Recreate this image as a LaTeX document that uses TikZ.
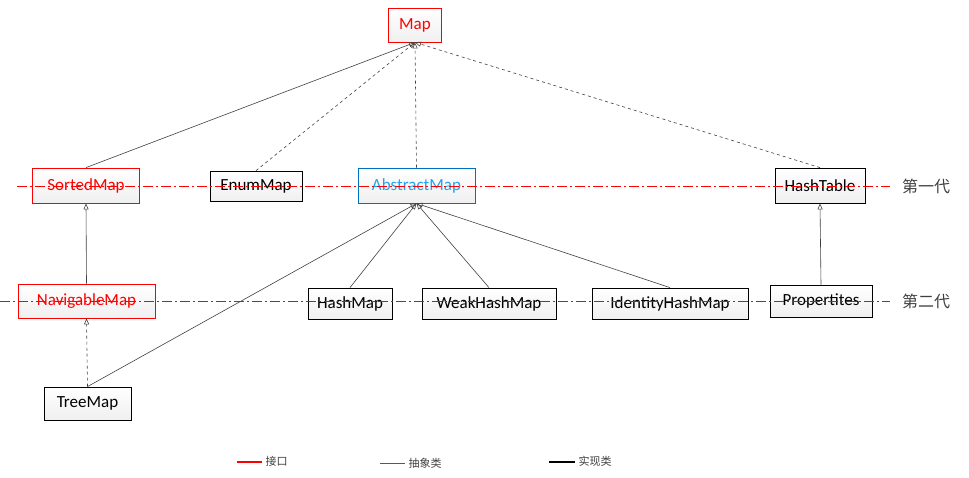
\documentclass[tikz,border=0pt]{standalone}
\usepackage{fontspec}
\setmainfont{Carlito}
\newfontfamily\cjk{Noto Sans CJK SC}
\usetikzlibrary{arrows.meta}
\definecolor{ired}{HTML}{FF0000}
\definecolor{iblue}{HTML}{0070C0}
\definecolor{itext}{HTML}{1EA5EE}
\tikzset{
  cls/.style={draw=black, top color=white, bottom color=gray!12, font=\fontsize{17}{18}\selectfont, inner sep=0pt, minimum height=32pt, line width=0.8pt},
  ifc/.style={cls, draw=ired, text=ired},
  abs/.style={cls, draw=iblue, text=itext},
  inh/.style={draw=black!75, line width=0.6pt, -{Triangle[open,length=6pt,width=5pt]}},
  impl/.style={inh, dashed},
  gen/.style={draw=ired, line width=0.7pt, dash pattern=on 10pt off 3pt on 2pt off 3pt},
  lab/.style={font=\cjk\fontsize{16}{18}\selectfont, text=black!75},
  leg/.style={font=\cjk\fontsize{11}{12}\selectfont, text=black!75, anchor=west}
}
\begin{document}
\begin{tikzpicture}[x=1pt,y=-1pt]
\useasboundingbox (0,0) rectangle (969,478);
\node[ifc, minimum width=53pt, minimum height=34pt] (map) at (415,25) {Map};
\node[ifc, minimum width=107pt, minimum height=35pt] (sorted) at (86,185.5) {SortedMap};
\node[cls, minimum width=92pt, minimum height=30pt] (enum) at (256,186) {EnumMap};
\node[abs, minimum width=117pt, minimum height=35pt] (abstract) at (416.5,185.5) {AbstractMap};
\node[cls, minimum width=90pt, minimum height=35pt] (hashtable) at (820,185.5) {HashTable};
\node[ifc, minimum width=137pt, minimum height=34pt] (nav) at (86.5,301) {NavigableMap};
\node[cls, minimum width=84pt, minimum height=31pt] (hashmap) at (350,303.5) {HashMap};
\node[cls, minimum width=134pt, minimum height=31pt] (weak) at (489,303.5) {WeakHashMap};
\node[cls, minimum width=156pt, minimum height=31pt] (ident) at (670,303.5) {IdentityHashMap};
\node[cls, minimum width=102pt, minimum height=32pt] (prop) at (821,301) {Propertites};
\node[cls, minimum width=87pt, minimum height=33pt] (tree) at (87.5,403.5) {TreeMap};

\draw[inh] (sorted.north) -- (map.south);
\draw[impl] (enum.north) -- (map.south);
\draw[impl] (abstract.north) -- (map.south);
\draw[impl] (hashtable.north) -- (map.south);
\draw[inh] (nav.north) -- (sorted.south);
\draw[impl] (tree.north) -- (nav.south);
\draw[inh] (tree.north) -- (abstract.south);
\draw[inh] (hashmap.north) -- (abstract.south);
\draw[inh] (weak.north) -- (abstract.south);
\draw[inh] (ident.north) -- (abstract.south);
\draw[inh] (prop.north) -- (hashtable.south);

\coordinate (g1a) at (17,186); \coordinate (g1b) at (890,186);
\coordinate (g2a) at (0,301); \coordinate (g2b) at (890,301);
\draw[gen] (g1a) -- (g1b);
\draw[gen] (g2a) -- (g2b);
\node[lab] (gen1) at (926,186) {第一代};
\node[lab] (gen2) at (926,301) {第二代};

\coordinate (l1a) at (237,462); \coordinate (l1b) at (262,462);
\draw[ired, line width=1.5pt] (l1a) -- (l1b);
\node[leg] (t1) at (262,461) {接口};
\coordinate (l2a) at (380,463.5); \coordinate (l2b) at (405,463.5);
\draw[iblue, line width=1.5pt] (l2a) -- (l2b);
\node[leg] (t2) at (405,463) {抽象类};
\coordinate (l3a) at (549,462); \coordinate (l3b) at (575,462);
\draw[black, line width=1.5pt] (l3a) -- (l3b);
\node[leg] (t3) at (575,461) {实现类};
\end{tikzpicture}
\end{document}
